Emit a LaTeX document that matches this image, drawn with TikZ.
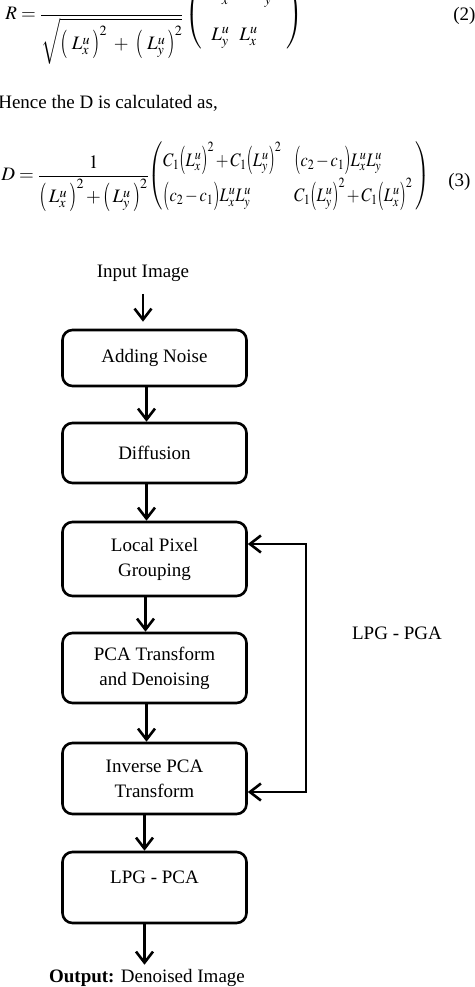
\documentclass[tikz,border=0pt]{standalone}
\usepackage{amsmath}
\usepackage{graphicx}
\usepackage{mathptmx}
\usepackage{fontspec}
\setmainfont{Liberation Serif}
\usetikzlibrary{arrows.meta}

\newcommand{\Lu}[1]{L^{u}_{#1}}
\newcommand{\Lp}{\mathopen{\raisebox{-0.08em}{\scalebox{1}[1.5]{$($}}}}
\newcommand{\Rp}{\mathclose{\raisebox{-0.08em}{\scalebox{1}[1.5]{$)$}}}}
\newcommand{\Sq}[1]{\Lp#1\Rp^{2}}

\begin{document}
\begin{tikzpicture}[x=1pt, y=-1pt, line width=2.6pt,
  font=\fontsize{19}{25}\selectfont,
  stage/.style={draw, rounded corners=10pt, minimum width=184pt, align=center, inner sep=0pt},
  flow/.style={-{Straight Barb[length=11pt, width=17pt]}}]
  \useasboundingbox (0,0) rectangle (474,987);
  % equations above the chart
  \node[anchor=base west, inner sep=0pt] (eqR) at (4,20)
    {$\displaystyle R=\frac{1\rule[-12pt]{0pt}{12pt}}{\sqrt{\Sq{\;\Lu{x}\,}\;+\;\Sq{\;\Lu{y}\,}}}
      \left(\begin{array}{@{\hspace{9pt}}l@{\hspace{10pt}}l@{\hspace{14pt}}}\Lu{x} & -\Lu{y}\\[16pt] \Lu{y} & \Lu{x}\end{array}\right)$};
  \node[anchor=base west, inner sep=0pt] (tag2) at (452,21) {(2)};
  \node[anchor=base west, inner sep=0pt] (hence) at (-3,109) {Hence the D is calculated as,};
  \node[anchor=base west, inner sep=0pt] (eqD) at (0,181)
    {$\displaystyle \medmuskip=2mu D=\frac{1}{\Sq{\,\Lu{x}\,}+\Sq{\,\Lu{y}\,}}\scalebox{0.86}[1]{$\displaystyle\left(\begin{array}{@{}l@{\hspace{15pt}}l@{\hspace{4pt}}}
      C_1\Sq{\Lu{x}}+C_1\Sq{\Lu{y}} & \Lp c_2-c_1\Rp\Lu{x}\Lu{y}\\[4pt]
      \Lp c_2-c_1\Rp\Lu{x}\Lu{y} & C_1\Sq{\Lu{y}}+C_1\Sq{\Lu{x}}
    \end{array}\right)$}$};
  \node[anchor=base west, inner sep=0pt] (tag3) at (447,186) {(3)};
  % flow chart
  \node (input) at (143,273) {Input Image};
  \node[stage, minimum height=56pt] (noise) at (154.5,358) {Adding Noise};
  \node[stage, minimum height=60pt] (diff) at (154.5,453) {Diffusion};
  \node[stage, minimum height=74pt] (lpg) at (154.5,559) {Local Pixel\\Grouping};
  \node[stage, minimum height=70pt] (pca) at (154.5,668) {PCA Transform\\and Denoising};
  \node[stage, minimum height=71pt] (inv) at (154.5,778.5) {Inverse PCA\\Transform};
  \node[stage, minimum height=71pt] (lpgpca) at (154.5,887.5) {LPG - PCA\\[-12pt]\strut};
  \node (loop) at (397,633) {LPG - PGA};
  \node (output) at (147,978) {\textbf{Output:} Denoised Image};
  \draw[flow, shorten <=8pt, shorten >=7pt] (input.south) -- (input.south |- noise.north);
  \draw[flow] ([xshift=-8pt]noise.south) -- ([xshift=-8pt]diff.north);
  \draw[flow] ([xshift=-8pt]diff.south) -- ([xshift=-8pt]lpg.north);
  \draw[flow] ([xshift=-9pt]lpg.south) -- ([xshift=-9pt]pca.north);
  \draw[flow] ([xshift=-8pt]pca.south) -- ([xshift=-8pt]inv.north);
  \draw[flow] ([xshift=-10pt]inv.south) -- ([xshift=-10pt]lpgpca.north);
  \draw[flow] ([xshift=-10pt]lpgpca.south) -- ([xshift=-10pt]lpgpca.south |- output.north);
  \draw[{Straight Barb[length=11pt, width=17pt]}-{Straight Barb[length=11pt, width=17pt]}]
    ([yshift=15pt]lpg.east) -- ++(58,0) |- ([yshift=-13.5pt]inv.east);
\end{tikzpicture}
\end{document}
